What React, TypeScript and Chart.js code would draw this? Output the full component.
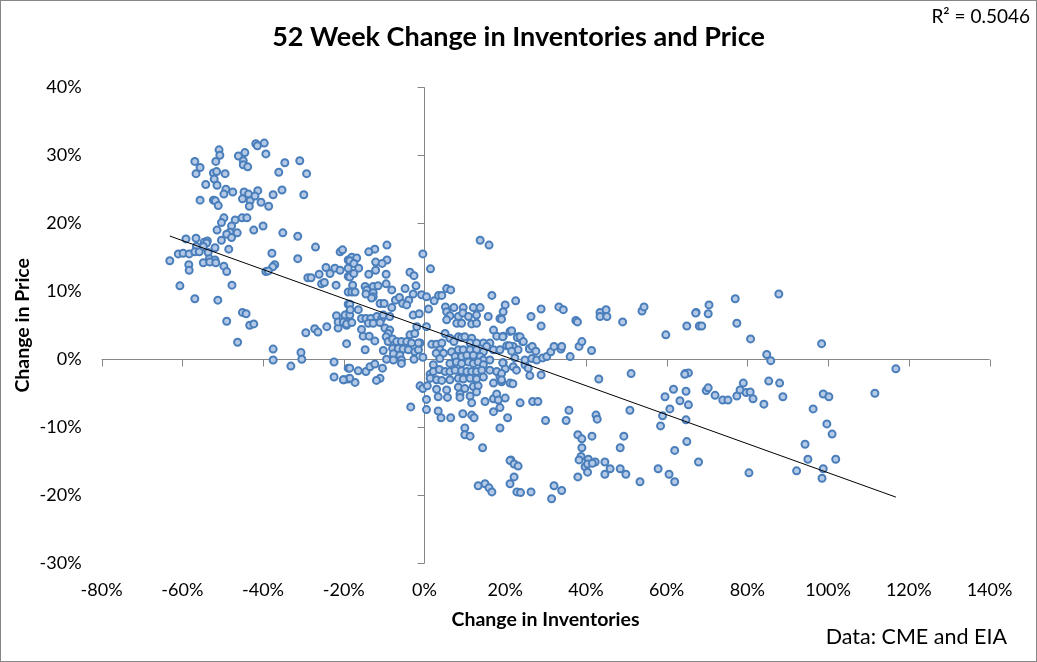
import React, { useEffect, useRef } from "react";
import { Chart, registerables } from "chart.js";

Chart.register(...registerables);

// 52-week change in inventories (%) and 52-week change in price (%)
const observations: [number, number][] = [
  [-50.9,30.8],[-50.7,30.0],[-51.7,29.1],[-56.9,29.1],[-55.6,28.2],[-56.6,27.3],[-52.3,27.4],[-51.5,27.6],[-52.1,26.5],[-49.4,27.3],
  [-51.4,25.6],[-54.2,25.7],[-49.2,25.0],[-49.7,24.3],[-47.5,24.6],[-46.1,29.9],[-44.5,30.4],[-44.9,29.2],[-44.9,28.6],[-43.8,28.3],
  [-41.8,31.7],[-41.4,31.4],[-39.7,31.8],[-39.3,30.2],[-34.6,28.9],[-36.1,27.5],[-30.9,29.2],[-29.2,27.3],[-44.7,24.6],[-43.6,24.3],
  [-41.3,24.8],[-45.1,23.6],[-43.2,23.3],[-42.0,24.0],[-40.5,23.1],[-43.4,22.5],[-38.6,22.5],[-37.5,24.2],[-35.3,24.9],[-29.9,24.2],
  [-55.6,23.4],[-52.3,23.4],[-51.8,23.3],[-51.1,22.6],[-49.7,20.8],[-50.3,20.1],[-46.9,20.5],[-45.2,20.8],[-44.0,20.8],[-47.8,19.6],
  [-51.4,19.0],[-48.2,18.7],[-49.0,18.4],[-46.4,18.6],[-47.8,17.9],[-50.3,17.5],[-42.3,19.0],[-40.0,19.6],[-35.1,18.6],[-31.4,18.1],
  [-27.0,16.5],[-59.1,17.7],[-56.6,17.8],[-54.6,17.2],[-53.8,17.4],[-54.0,17.1],[-56.5,16.6],[-54.8,16.6],[-51.9,16.4],[-48.5,16.2],
  [-61.0,15.5],[-59.8,15.6],[-58.3,15.5],[-56.9,15.8],[-55.8,15.8],[-53.6,15.7],[-63.1,14.5],[-53.3,14.8],[-51.9,14.6],[-54.8,14.2],
  [-53.2,14.3],[-51.7,14.2],[-58.4,13.9],[-58.3,13.1],[-49.7,13.7],[-49.0,12.9],[-60.6,10.8],[-47.7,10.9],[-37.8,15.6],[-31.4,14.8],
  [-37.1,13.9],[-37.6,13.6],[-39.3,12.9],[-38.7,13.0],[-28.9,12.0],[-28.1,12.0],[-26.1,12.5],[-24.4,13.5],[-23.4,12.6],[-22.2,13.4],
  [-20.9,13.1],[-20.9,15.8],[-20.3,16.1],[-18.9,13.4],[-18.9,14.6],[-25.5,11.1],[-24.8,11.3],[-21.9,10.9],[-18.9,12.2],
  [-56.9,8.9],[-51.2,8.7],[-45.1,6.9],[-44.2,6.7],[-49.0,5.6],[-43.3,5.0],[-42.3,5.2],[-46.3,2.5],[-37.5,1.5],[-37.5,-0.1],
  [-33.1,-1.0],[-30.6,1.0],[-30.4,0.0],[-29.4,3.9],[-27.2,4.5],[-26.4,4.0],[-24.2,4.8],[-22.4,-0.4],[-22.4,-2.6],[-20.0,-3.0],
  [-18.9,-2.9],[-21.8,6.4],[-19.7,5.9],[-18.9,6.7],[-20.9,5.3],[-19.3,5.0],[-21.4,4.6],[-19.3,2.3],[-18.9,-1.3],[-18.9,8.1],[-18.9,9.9],
  [13.8,17.5],[16.0,16.8],[-0.4,15.5],[1.5,13.3],[-9.3,16.8],[-12.3,16.2],[-13.8,15.8],[-18.0,15.0],[-16.8,14.9],[-18.5,14.5],
  [-17.5,14.1],[-16.3,13.4],[-9.3,14.6],[-12.1,14.3],[-10.5,14.1],[-12.1,13.1],[-13.8,12.5],[-9.5,12.5],[-18.5,12.1],[-17.5,12.6],
  [-17.8,10.9],[-18.0,9.9],[-17.2,9.9],[-14.7,10.7],[-14.3,10.2],[-14.5,9.6],[-12.7,10.7],[-11.5,10.8],[-12.7,9.8],[-12.7,9.2],
  [-13.1,9.0],[-9.5,11.1],[-8.1,10.2],[-7.2,8.7],[-6.2,9.1],[-4.8,10.4],[-3.6,12.8],[-2.6,12.3],[-2.1,10.8],[-3.9,8.7],
  [-5.4,8.2],[-4.4,8.0],[-2.8,9.6],[-0.7,9.5],[0.5,9.2],[2.4,8.6],[3.5,9.4],[4.3,9.4],[5.5,10.4],[6.5,10.2],
  [1.0,7.4],[-11.0,8.2],[-10.0,8.2],[-8.1,7.6],[-18.5,8.1],[16.7,9.4],[20.0,8.0],[22.6,8.6],[5.2,7.7],[7.3,7.6],
  [9.6,7.6],[12.1,7.6],[13.8,7.6],
  [-19.7,6.5],[-18.5,6.5],[-18.4,7.3],[-21.4,5.5],[-20.1,5.5],[-19.3,5.2],[-18.0,5.4],[-16.4,7.3],[-15.6,6.0],[-14.5,6.0],
  [-13.3,6.0],[-11.8,6.3],[-10.6,6.0],[-10.2,6.5],[-8.6,6.3],[-13.9,5.3],[-12.7,5.3],[-11.0,5.4],[-9.8,4.6],[-8.6,4.3],
  [-9.0,3.8],[-15.6,4.4],[-15.2,3.4],[-13.7,3.4],[-12.3,2.7],[-14.7,1.4],[-10.2,1.3],[-9.5,3.3],[-9.0,2.6],[-7.9,3.0],
  [-6.9,2.6],[-5.7,2.6],[-4.4,2.6],[-3.2,2.4],[-7.9,1.6],[-6.5,1.6],[-5.3,1.5],[-4.0,1.4],[-7.7,0.8],[-6.1,0.6],
  [-9.4,0.0],[-7.7,-0.1],[-5.7,-0.1],[-5.7,-0.6],[-2.4,1.1],[-1.5,1.4],[-1.1,2.4],[-2.6,0.0],[-0.4,0.3],[-3.6,3.6],
  [-2.4,3.8],[-1.5,2.4],[-2.8,6.5],[-1.3,6.7],[-1.9,4.8],[0.5,4.8],[-18.5,-1.3],[-16.4,-1.7],[-14.5,-1.8],[-13.5,-1.1],
  [-12.3,-0.7],[-10.4,-1.3],[-11.0,-2.8],[-11.9,-3.1],[-17.2,-3.4],[-18.5,-2.8],[-20.1,-3.0],[-3.4,-7.0],
  [5.5,7.0],[6.3,6.4],[8.4,6.3],[9.5,6.8],[10.9,6.3],[12.9,6.5],[5.5,5.8],[8.0,5.3],[9.2,5.3],[11.7,5.2],
  [12.9,5.3],[15.8,6.3],[18.7,6.0],[19.5,7.0],[1.8,2.2],[3.0,2.2],[4.3,2.4],[3.8,1.4],[2.9,0.9],[4.7,0.9],
  [3.8,0.1],[2.2,-0.8],[5.1,3.8],[6.3,3.1],[7.3,2.6],[8.4,3.3],[9.2,3.2],[10.0,3.3],[11.7,3.1],[11.3,2.4],
  [12.9,2.4],[14.6,2.4],[16.2,2.4],[15.4,1.9],[17.1,4.3],[17.9,3.4],[19.5,3.4],[21.2,4.1],[23.2,3.3],[24.3,2.6],
  [26.0,1.6],[6.7,1.1],[8.4,1.4],[9.6,1.4],[11.3,1.4],[12.9,1.4],[14.6,1.1],[17.1,1.4],[18.7,1.4],[20.4,2.0],
  [22.0,1.9],[23.2,1.4],[7.6,0.4],[9.2,0.4],[10.5,0.6],[12.1,0.6],[13.8,0.4],[14.6,-0.1],[6.3,-0.6],[7.9,-0.4],
  [9.2,-0.6],[10.9,-0.4],[12.1,-0.6],[13.3,-0.4],[14.6,-0.8],[16.2,-0.1],[19.5,-0.5],[20.0,-1.4],[22.0,-1.1],[22.8,-1.6],
  [24.9,-0.8],[25.7,-1.3],[1.4,-2.2],[2.2,-1.8],[3.7,-1.5],[5.1,-1.8],[6.3,-1.8],[7.6,-1.6],[9.2,-1.7],[10.5,-1.8],
  [11.7,-1.8],[12.9,-1.8],[14.2,-1.6],[16.2,-1.6],[17.9,-1.8],[1.4,-2.8],[3.0,-3.0],[4.3,-3.1],[6.3,-3.0],[8.4,-2.8],
  [9.6,-2.9],[11.3,-2.8],[12.9,-2.9],[14.6,-2.6],[17.1,-3.5],[18.7,-2.6],[19.1,-3.3],[21.2,-3.5],[-1.1,-3.9],[-0.4,-4.3],
  [0.7,-3.9],[3.0,-4.4],[5.5,-4.5],[8.4,-4.1],[10.0,-4.3],[12.1,-4.0],[13.3,-3.9],[0.5,-5.9],[0.5,-7.4],[3.4,-5.5],
  [5.7,-5.6],[8.8,-5.1],[8.8,-5.6],[11.3,-5.4],[11.7,-6.4],[12.9,-4.8],[15.0,-6.2],[17.1,-5.8],[17.9,-5.1],[18.3,-6.0],
  [20.0,-5.7],[23.7,-6.4],[3.4,-7.6],[4.1,-8.6],[6.5,-8.6],[9.5,-8.0],[11.7,-8.2],[12.3,-8.6],[17.1,-7.7],[18.7,-7.1],
  [20.6,-8.6],[10.0,-10.1],[10.0,-11.1],[11.3,-11.3],[18.7,-10.1],[14.4,-13.0],[21.4,-14.8],[13.3,-18.6],[15.0,-18.3],[16.0,-18.9],
  [16.7,-19.5],
  [19.1,5.9],[26.4,6.3],[28.9,7.4],[28.9,4.9],[33.3,7.7],[34.4,7.3],[37.5,5.7],[37.9,5.5],[43.5,6.9],[43.5,6.3],
  [45.0,7.3],[45.2,6.3],[49.1,5.5],[53.9,7.1],[54.4,7.7],[59.8,3.6],[65.0,4.9],[67.3,6.9],[68.1,4.9],[19.4,3.3],
  [21.6,4.2],[23.0,3.2],[23.7,3.3],[24.5,2.6],[21.0,2.0],[21.6,1.2],[22.4,0.2],[19.4,-0.5],[26.0,1.5],[26.7,1.9],
  [27.6,1.2],[24.9,-0.1],[26.6,0.1],[27.8,-0.1],[29.3,0.2],[30.3,0.4],[31.3,1.1],[32.1,1.9],[33.8,1.5],[34.0,1.9],
  [36.1,0.4],[38.3,1.9],[39.0,2.6],[41.4,1.3],[26.1,-2.4],[28.9,-2.3],[43.2,-2.9],[51.2,-2.1],[64.6,-2.1],[65.4,-2.0],
  [19.1,-2.1],[19.1,-3.0],[21.9,-3.6],[26.8,-6.2],[28.1,-6.2],[30.0,-9.0],[35.8,-7.5],[35.1,-9.0],[42.5,-8.2],[42.8,-8.8],
  [50.9,-7.5],[38.0,-11.1],[39.0,-11.7],[41.5,-11.3],[39.0,-13.0],[38.8,-14.3],[38.3,-14.8],[40.6,-14.7],[39.8,-15.8],[40.4,-15.4],
  [42.3,-15.1],[40.4,-16.6],[38.0,-17.3],[41.6,-15.3],[44.7,-15.1],[46.0,-16.1],[44.7,-16.9],[48.5,-16.1],[49.9,-16.9],[48.5,-13.0],
  [49.4,-11.3],[53.4,-18.0],[57.9,-16.1],[60.6,-16.9],[62.0,-18.0],[62.0,-13.4],[65.0,-12.1],[67.9,-15.1],[21.2,-14.9],[22.2,-15.4],
  [23.2,-15.7],[22.2,-17.3],[21.2,-18.3],[22.9,-19.5],[23.8,-19.6],[26.4,-19.5],[32.1,-18.6],[34.0,-19.3],[31.5,-20.5],[59.0,-8.3],
  [59.6,-5.5],[61.7,-4.4],[60.8,-7.3],[63.3,-6.1],[64.8,-4.7],[65.4,-6.7],[64.8,-8.9],[58.5,-9.8],
  [67.2,6.8],[68.7,4.9],[70.3,6.7],[70.5,8.0],[77.0,8.9],[77.4,5.3],[80.8,3.0],[84.8,0.7],[85.8,-0.2],[87.8,9.6],
  [98.4,2.3],[64.5,-2.2],[69.8,-4.6],[70.3,-4.2],[72.0,-5.3],[73.9,-6.0],[75.2,-6.0],[77.4,-5.4],[78.2,-4.5],[79.0,-3.5],
  [79.7,-4.9],[80.7,-4.8],[81.4,-5.8],[84.1,-6.6],[85.3,-3.2],[88.0,-3.5],[88.8,-5.5],[96.3,-7.3],[98.8,-5.1],[100.2,-5.5],
  [111.6,-5.0],[99.7,-9.5],[101.0,-11.0],[94.3,-12.5],[95.0,-14.7],[92.2,-16.4],[98.8,-16.1],[98.5,-17.5],[101.9,-14.7],[80.4,-16.7],
  [116.8,-1.4],
];

// Linear trendline as shown (y = slope * x + intercept, in %)
const trendSlope = -0.2134;
const trendIntercept = 4.66;
const rSquaredLabel = "R\u00B2 = 0.5046";

const xTicksRange = { min: -80, max: 140, step: 20 };
const yTicksRange = { min: -30, max: 40, step: 10 };

const chartTitle = "52 Week Change in Inventories and Price";
const xAxisTitle = "Change in Inventories";
const yAxisTitle = "Change in Price";
const sourceNote = "Data: CME and EIA";

const FONT = "Lato, 'DejaVu Sans', sans-serif";
const AXIS_COLOR = "#868686";

const decorPlugin = {
  id: "decor",
  beforeDatasetsDraw(chart: any) {
    const { ctx, chartArea, scales } = chart;
    const xs = scales.x;
    const ys = scales.y;
    const x0 = Math.round(xs.getPixelForValue(0)) + 0.5;
    const y0 = Math.round(ys.getPixelForValue(0)) + 0.5;
    ctx.save();
    ctx.strokeStyle = AXIS_COLOR;
    ctx.lineWidth = 1;
    ctx.beginPath();
    ctx.moveTo(x0, chartArea.top);
    ctx.lineTo(x0, chartArea.bottom);
    ys.ticks.forEach((t: any) => {
      const py = Math.round(ys.getPixelForValue(t.value)) + 0.5;
      ctx.moveTo(x0 - 7, py);
      ctx.lineTo(x0, py);
    });
    ctx.moveTo(chartArea.left, y0);
    ctx.lineTo(chartArea.right, y0);
    xs.ticks.forEach((t: any) => {
      const px = Math.round(xs.getPixelForValue(t.value)) + 0.5;
      ctx.moveTo(px, y0);
      ctx.lineTo(px, y0 + 7);
    });
    ctx.stroke();
    ctx.restore();
  },
  afterDraw(chart: any) {
    const { ctx, width, height } = chart;
    ctx.save();
    ctx.strokeStyle = AXIS_COLOR;
    ctx.lineWidth = 1;
    ctx.strokeRect(0.5, 0.5, width - 1, height - 1);
    ctx.fillStyle = "#000";
    ctx.textBaseline = "middle";
    ctx.textAlign = "center";
    ctx.font = `bold 27px ${FONT}`;
    ctx.fillText(chartTitle, width / 2, 37);
    ctx.textAlign = "right";
    ctx.font = `19px ${FONT}`;
    ctx.fillText(rSquaredLabel, width - 7, 17);
    ctx.font = `21.5px ${FONT}`;
    ctx.fillText(sourceNote, width - 30, 637);
    ctx.restore();
  },
};

export default function App() {
  const canvasRef = useRef<HTMLCanvasElement | null>(null);

  useEffect(() => {
    if (!canvasRef.current) return;
    const points = observations.map(([x, y]) => ({ x, y }));
    const xsVals = observations.map((o) => o[0]);
    const minX = Math.min(...xsVals);
    const maxX = Math.max(...xsVals);
    const trend = [
      { x: minX, y: trendSlope * minX + trendIntercept },
      { x: maxX, y: trendSlope * maxX + trendIntercept },
    ];
    const chart = new Chart(canvasRef.current, {
      type: "scatter",
      data: {
        datasets: [
          {
            label: "Trend",
            data: trend,
            showLine: true,
            borderColor: "#000",
            borderWidth: 1,
            pointRadius: 0,
            fill: false,
            order: 0,
          } as any,
          {
            label: "Weekly",
            data: points,
            pointRadius: 3.5,
            pointBorderWidth: 2,
            pointBorderColor: "#4a7ebb",
            pointBackgroundColor: "#b3c9e6",
            order: 1,
          } as any,
        ],
      },
      options: {
        animation: false,
        responsive: false,
        devicePixelRatio: 1,
        layout: { padding: { top: 87.3, right: 47.5, left: 0, bottom: 0 } },
        plugins: {
          legend: { display: false },
          tooltip: { enabled: false },
          title: { display: false },
        },
        scales: {
          x: {
            type: "linear",
            position: "bottom",
            min: xTicksRange.min,
            max: xTicksRange.max,
            grid: { display: false, drawTicks: false },
            border: { display: false },
            ticks: {
              stepSize: xTicksRange.step,
              padding: 16,
              color: "#000",
              font: { family: FONT, size: 18 },
              callback: (v: any) => `${v}%`,
            },
            title: {
              display: true,
              text: xAxisTitle,
              color: "#000",
              font: { family: FONT, size: 19.5, weight: "bold" },
              padding: { top: 0, bottom: 30.5 },
            },
            afterFit: (s: any) => {
              s.height = 98.7;
            },
          },
          y: {
            type: "linear",
            position: "left",
            min: yTicksRange.min,
            max: yTicksRange.max,
            grid: { display: false, drawTicks: false },
            border: { display: false },
            ticks: {
              stepSize: yTicksRange.step,
              padding: 20,
              color: "#000",
              font: { family: FONT, size: 18 },
              callback: (v: any) => `${v}%`,
            },
            title: {
              display: true,
              text: yAxisTitle,
              color: "#000",
              font: { family: FONT, size: 19.5, weight: "bold" },
              padding: { top: 11, bottom: 0 },
            },
            afterFit: (s: any) => {
              s.width = 101.6;
            },
          },
        },
      },
      plugins: [decorPlugin],
    } as any);
    return () => chart.destroy();
  }, []);

  return (
    <div style={{ position: "fixed", left: 0, top: 0, width: 1037, height: 662, background: "#fff" }}>
      <canvas ref={canvasRef} width={1037} height={662} />
    </div>
  );
}
